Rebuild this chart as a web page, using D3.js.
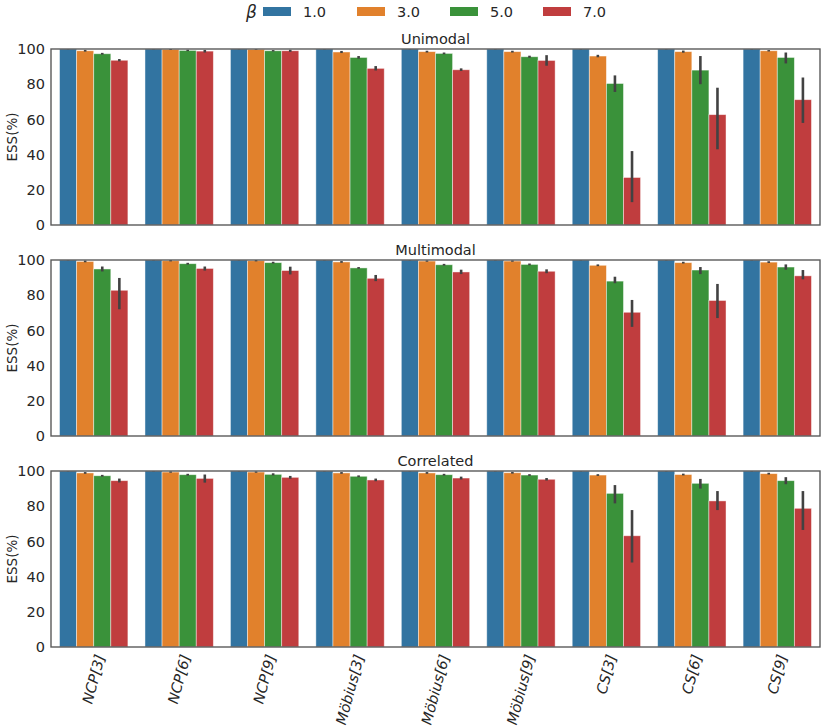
<!DOCTYPE html>
<html>
<head>
<meta charset="utf-8">
<script src="https://cdn.jsdelivr.net/npm/d3@7"></script>
<style>
  body { margin: 0; background: #fff; }
  svg text { font-family: "DejaVu Sans", sans-serif; fill: #262626; }
</style>
</head>
<body>
<svg id="chart" width="822" height="726"></svg>
<script>
const categories = ['NCP[3]', 'NCP[6]', 'NCP[9]', 'Möbius[3]', 'Möbius[6]', 'Möbius[9]', 'CS[3]', 'CS[6]', 'CS[9]'];
const betas = ['1.0', '3.0', '5.0', '7.0'];
const panelTitles = ['Unimodal', 'Multimodal', 'Correlated'];
const yTicks = [0, 20, 40, 60, 80, 100];

// means per beta (rows) per category (columns)
const unimodalMean = [
  [100, 100, 100, 100, 100, 100, 100, 100, 100],
  [99.0, 99.8, 99.8, 98.3, 98.5, 98.5, 96.0, 98.5, 99.0],
  [97.3, 99.2, 99.0, 95.2, 97.5, 95.6, 80.4, 88.0, 95.2],
  [93.6, 98.8, 99.0, 89.0, 88.2, 93.5, 27.0, 62.7, 71.2]
];
const unimodalLow = [
  [99.8, 99.8, 99.8, 99.8, 99.8, 99.8, 99.8, 99.8, 99.8],
  [98.5, 99.5, 99.6, 97.7, 98.0, 98.0, 95.3, 97.9, 98.6],
  [96.8, 98.8, 98.6, 94.5, 97.0, 95.0, 75.6, 80.0, 91.8],
  [93.0, 98.0, 98.4, 87.8, 87.5, 90.5, 13.0, 43.0, 58.0]
];
const unimodalHigh = [
  [100, 100, 100, 100, 100, 100, 100, 100, 100],
  [99.5, 100, 100, 98.9, 99.0, 99.0, 96.7, 99.1, 99.4],
  [97.8, 99.6, 99.4, 96.0, 98.0, 96.2, 85.0, 96.0, 98.0],
  [94.3, 99.5, 99.6, 90.3, 89.0, 96.5, 42.0, 78.0, 83.8]
];

const multimodalMean = [
  [100, 100, 100, 100, 100, 100, 100, 100, 100],
  [99.2, 99.6, 99.6, 98.9, 99.4, 99.4, 97.0, 98.5, 98.8],
  [94.9, 97.9, 98.5, 95.5, 97.3, 97.5, 88.0, 94.3, 96.0],
  [82.8, 95.2, 94.0, 89.6, 93.2, 93.6, 70.3, 77.0, 91.0]
];
const multimodalLow = [
  [99.8, 99.8, 99.8, 99.8, 99.8, 99.8, 99.8, 99.8, 99.8],
  [98.7, 99.2, 99.2, 98.4, 99.0, 99.0, 96.5, 98.0, 98.3],
  [93.5, 97.4, 98.0, 95.0, 96.8, 97.0, 86.8, 92.0, 94.5],
  [72.0, 94.0, 91.8, 88.0, 92.0, 92.5, 62.0, 67.0, 89.0]
];
const multimodalHigh = [
  [100, 100, 100, 100, 100, 100, 100, 100, 100],
  [99.7, 100, 100, 99.4, 99.8, 99.8, 97.5, 99.0, 99.3],
  [96.3, 98.4, 99.0, 96.0, 97.8, 98.0, 90.5, 96.0, 97.5],
  [89.8, 96.3, 96.2, 91.5, 94.5, 94.7, 77.3, 86.4, 94.3]
];

const correlatedMean = [
  [100, 100, 100, 100, 100, 100, 100, 100, 100],
  [98.9, 99.4, 99.4, 98.9, 98.9, 99.0, 97.7, 98.0, 98.5],
  [97.3, 97.9, 98.1, 97.0, 97.9, 97.7, 87.3, 93.0, 94.5],
  [94.5, 95.8, 96.4, 94.9, 96.0, 95.3, 63.2, 83.0, 78.8]
];
const correlatedLow = [
  [99.8, 99.8, 99.8, 99.8, 99.8, 99.8, 99.8, 99.8, 99.8],
  [98.4, 99.0, 99.0, 98.4, 98.4, 98.5, 97.2, 97.5, 98.0],
  [96.8, 97.4, 97.5, 96.5, 97.4, 97.2, 81.6, 90.0, 92.5],
  [93.5, 93.4, 95.6, 94.2, 95.2, 94.6, 48.0, 77.8, 66.5]
];
const correlatedHigh = [
  [100, 100, 100, 100, 100, 100, 100, 100, 100],
  [99.4, 99.8, 99.8, 99.4, 99.4, 99.5, 98.2, 98.5, 99.0],
  [97.8, 98.4, 98.7, 97.5, 98.4, 98.2, 92.0, 95.5, 96.5],
  [95.7, 98.0, 97.2, 95.7, 96.8, 96.0, 77.8, 88.6, 88.6]
];

const colors = ['#3274a1', '#e1812c', '#3a923a', '#c03d3e'];

const panels = [
  { mean: unimodalMean, low: unimodalLow, high: unimodalHigh },
  { mean: multimodalMean, low: multimodalLow, high: multimodalHigh },
  { mean: correlatedMean, low: correlatedLow, high: correlatedHigh }
];

const svg = d3.select('#chart');
const left = 51, right = 820;
const panelTops = [49, 260, 471];
const panelH = 176;

const x0 = d3.scaleBand().domain(categories).range([left, right]).paddingInner(0.2).paddingOuter(0.1);
const x1 = d3.scaleBand().domain(betas).range([0, x0.bandwidth()]);
const color = d3.scaleOrdinal().domain(betas).range(colors);

panels.forEach((p, pi) => {
  const top = panelTops[pi];
  const y = d3.scaleLinear().domain([0, 100]).range([top + panelH, top]);
  const g = svg.append('g');

  // bars
  betas.forEach((b, bi) => {
    g.append('g')
      .selectAll('rect')
      .data(categories)
      .enter()
      .append('rect')
      .attr('x', (c) => x0(c) + x1(b))
      .attr('y', (c, i) => y(p.mean[bi][i]))
      .attr('width', x1.bandwidth())
      .attr('height', (c, i) => y(0) - y(p.mean[bi][i]))
      .attr('fill', color(b))
      .attr('stroke', '#fff')
      .attr('stroke-opacity', 0.55)
      .attr('stroke-width', 0.8);
  });

  // error bars
  betas.forEach((b, bi) => {
    g.append('g')
      .selectAll('line')
      .data(categories)
      .enter()
      .append('line')
      .attr('x1', (c) => x0(c) + x1(b) + x1.bandwidth() / 2)
      .attr('x2', (c) => x0(c) + x1(b) + x1.bandwidth() / 2)
      .attr('y1', (c, i) => y(p.low[bi][i]))
      .attr('y2', (c, i) => y(p.high[bi][i]))
      .attr('stroke', '#424242')
      .attr('stroke-width', 2.6);
  });

  // y axis labels
  const ya = g.append('g')
    .attr('transform', `translate(${left},0)`)
    .call(d3.axisLeft(y).tickValues(yTicks).tickSize(0).tickPadding(6));
  ya.select('.domain').remove();
  ya.selectAll('text').attr('font-size', 14.5).attr('fill', '#262626').style('font-family', '"DejaVu Sans", sans-serif');

  // frame
  g.append('rect')
    .attr('x', left)
    .attr('y', top)
    .attr('width', right - left)
    .attr('height', panelH)
    .attr('fill', 'none')
    .attr('stroke', '#5a5a5a')
    .attr('stroke-width', 1.4);

  // title
  g.append('text')
    .attr('x', (left + right) / 2)
    .attr('y', top - 5)
    .attr('text-anchor', 'middle')
    .attr('font-size', 14.5)
    .text(panelTitles[pi]);

  // y label
  g.append('text')
    .attr('transform', `translate(17,${top + panelH / 2}) rotate(-90)`)
    .attr('text-anchor', 'middle')
    .attr('font-size', 13.5)
    .text('ESS(%)');
});

// x tick labels, rotated 75 degrees, bbox centred on tick
const bottom = panelTops[2] + panelH;
const rot = 75 * Math.PI / 180;
const xl = svg.append('g');
categories.forEach((c) => {
  const t = xl.append('text')
    .attr('font-size', 14.5)
    .attr('font-style', 'italic')
    .attr('text-anchor', 'middle')
    .attr('dominant-baseline', 'central')
    .text(c);
  const L = t.node().getComputedTextLength();
  const h = 14.5;
  const H = L * Math.sin(rot) + h * Math.cos(rot);
  const cx = x0(c) + x0.bandwidth() / 2;
  t.attr('transform', `translate(${cx},${bottom + 6 + H / 2}) rotate(-75)`);
});

// legend
const leg = svg.append('g');
leg.append('text')
  .attr('x', 246)
  .attr('y', 18)
  .attr('font-size', 17)
  .attr('font-style', 'italic')
  .text('β');
const legX = [263, 357, 450, 543];
betas.forEach((b, i) => {
  leg.append('rect')
    .attr('x', legX[i])
    .attr('y', 7)
    .attr('width', 28)
    .attr('height', 9)
    .attr('fill', color(b));
  leg.append('text')
    .attr('x', legX[i] + 40)
    .attr('y', 17)
    .attr('font-size', 14.5)
    .text(b);
});
</script>
</body>
</html>
